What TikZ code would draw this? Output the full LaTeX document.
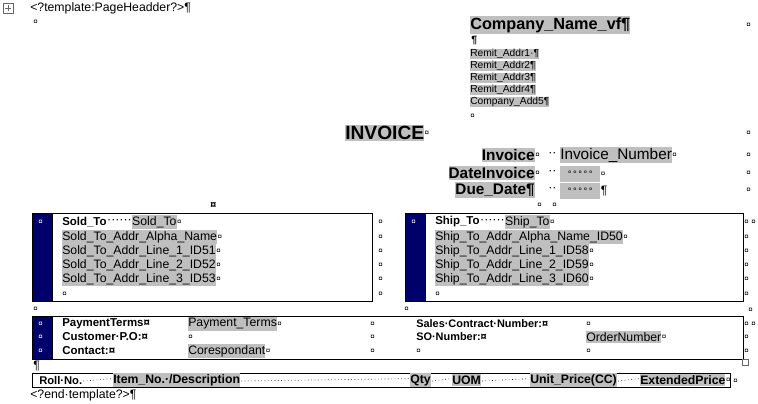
\documentclass[tikz,border=0pt]{standalone}
\usepackage{fontspec}
\setmainfont{Liberation Sans}
\usetikzlibrary{positioning}
\begin{document}
\begin{tikzpicture}[x=0.75pt,y=-0.75pt,
  t/.style={anchor=west,inner sep=0pt,font=\fontsize{9.2}{10}\selectfont},
  ts/.style={anchor=west,inner sep=0pt,font=\fontsize{7.7}{8}\selectfont},
  hl/.style={fill=black!25,inner ysep=1pt},
  b/.style={font=\fontsize{8.6}{10}\selectfont\bfseries},
  bl/.style={font=\fontsize{11.5}{13}\selectfont\bfseries},
  tl/.style={font=\fontsize{11.5}{13}\selectfont},
  mk/.style={anchor=west,inner sep=0pt,font=\fontsize{6}{7}\selectfont},
  navy/.style={fill=black!30!blue!60!black},
  dots/.style={dotted,line width=0.5pt},
  deg/.style={t,hl,font=\fontsize{7}{8}\selectfont,minimum height=12pt,minimum width=30pt,anchor=north west}]
\useasboundingbox (0,0) rectangle (758,404);
% header
\draw[black!60] (3,3) rectangle (13,13);
\draw[black!60] (5,8) -- (11,8) (8,5) -- (8,11);
\node[t] (hdr) at (30,8) {<?template:PageHeadder?>¶};
\node[mk] (m0) at (33,22) {¤};
\node[t,hl,anchor=west,font=\fontsize{12.2}{14}\selectfont\bfseries] (cn) at (470,25) {Company\_Name\_vf¶};
\node[mk] (m1) at (746,25) {¤};
\node[t,font=\fontsize{8}{9}\selectfont\bfseries] (p1) at (471,41) {¶};
\node[ts,hl,inner ysep=0.5pt] (r1) at (470,54) {Remit\_Addr1·¶};
\node[ts,hl,inner ysep=0.5pt] (r2) at (470,66) {Remit\_Addr2¶};
\node[ts,hl,inner ysep=0.5pt] (r3) at (470,78) {Remit\_Addr3¶};
\node[ts,hl,inner ysep=0.5pt] (r4) at (470,90) {Remit\_Addr4¶};
\node[ts,hl,inner ysep=0.5pt] (r5) at (470,102) {Company\_Add5¶};
\node[mk] (r6) at (470,116) {¤};
\node[t,hl,font=\fontsize{14.4}{16}\selectfont\bfseries] (inv) at (345,133) {INVOICE};
\node[mk,right=0pt of inv] (inva) {¤};
\node[mk] (m2) at (746,133) {¤};
\node[t,hl,anchor=east,bl] (il) at (535,155) {Invoice};
\node[mk,right=0pt of il] {¤};
\node[t] (iv0) at (548,155) {··};
\node[t,hl,tl] (iv) at (560,155) {Invoice\_Number};
\node[mk,right=0pt of iv] {¤};
\node[mk] at (746,155) {¤};
\node[t,hl,anchor=east,bl] (dl) at (535,173) {DateInvoice};
\node[mk,right=0pt of dl] {¤};
\node[t] at (548,173) {··};
\node[deg] (dv) at (560,166) {°\,°\,°\,°\,°};
\node[mk,right=0pt of dv] {¤};
\node[mk] at (746,173) {¤};
\node[t,hl,anchor=east,bl] (ddl) at (535,190) {Due\_Date¶};
\node[t] at (548,190) {··};
\node[deg] (ddv) at (560,183) {°\,°\,°\,°\,°};
\node[t,right=0pt of ddv] {¶};
\node[mk] at (746,190) {¤};
\node[mk,font=\fontsize{8}{9}\selectfont\bfseries] at (210,205) {¤};
\node[mk] at (537,205) {¤};
\node[mk] at (552,205) {¤};
% sold to box
\draw[navy] (32,213) rectangle (52,301);
\draw (32,213) rectangle (372,301);
\node[mk,white] at (38,222) {¤};
\node[t,b] (st) at (62,222) {Sold\_To};
\node[t,right=0pt of st] (std) {······};
\node[t,hl,right=0pt of std] (stv) {Sold\_To};
\node[mk,right=0pt of stv] {¤};
\foreach \s/\y in {Sold\_To\_Addr\_Alpha\_Name/237,Sold\_To\_Addr\_Line\_1\_ID51/251,Sold\_To\_Addr\_Line\_2\_ID52/265,Sold\_To\_Addr\_Line\_3\_ID53/279}{
  \node[t,hl] (x) at (62,\y) {\s}; \node[mk,right=0pt of x] {¤};}
\node[mk] at (62,294) {¤};
\foreach \y in {222,237,251,265,279,294} \node[mk] at (378,\y) {¤};
% ship to box
\draw[navy] (405,213) rectangle (425,301);
\draw (405,213) rectangle (743,301);
\node[mk,white] at (411,222) {¤};
\node[t,b] (sh) at (435,222) {Ship\_To};
\node[t,right=0pt of sh] (shd) {······};
\node[t,hl,right=0pt of shd] (shv) {Ship\_To};
\node[mk,right=0pt of shv] {¤};
\foreach \s/\y in {Ship\_To\_Addr\_Alpha\_Name\_ID50/237,Ship\_To\_Addr\_Line\_1\_ID58/251,Ship\_To\_Addr\_Line\_2\_ID59/265,Ship\_To\_Addr\_Line\_3\_ID60/279}{
  \node[t,hl] (x) at (435,\y) {\s}; \node[mk,right=0pt of x] {¤};}
\node[mk] at (435,294) {¤};
\foreach \y in {222,237,251,265,279,294} \node[mk] at (744,\y) {¤};
\node[mk] at (751,222) {¤};
\node[mk] at (33,309) {¤};
\node[mk] at (404,309) {¤};
\node[mk] at (748,310) {¤};
% payment table
\draw[navy] (32,316) rectangle (52,359);
\draw (32,316) rectangle (743,359);
\foreach \y in {324,337,351} {\node[mk,white] at (38,\y) {¤}; \node[mk] at (370,\y) {¤}; \node[mk] at (744,\y) {¤};}
\node[mk] at (751,324) {¤};
\node[t,b] (pt) at (62,324) {PaymentTerms¤};
\node[t,b] (cp) at (62,337) {Customer·P.O:¤};
\node[t,b] (co) at (62,351) {Contact:¤};
\node[t,hl] (ptv) at (188,324) {Payment\_Terms}; \node[mk,right=0pt of ptv] {¤};
\node[mk] at (188,337) {¤};
\node[t,hl] (cov) at (188,351) {Corespondant}; \node[mk,right=0pt of cov] {¤};
\node[t,b,font=\fontsize{8.2}{9}\selectfont\bfseries] (sc) at (416,324) {Sales·Contract·Number:¤};
\node[t,b,font=\fontsize{8.2}{9}\selectfont\bfseries] (so) at (416,337) {SO·Number:¤};
\node[mk] at (416,351) {¤};
\node[mk] at (586,324) {¤};
\node[t,hl] (on) at (586,337) {OrderNumber}; \node[mk,right=0pt of on] {¤};
\node[mk] at (586,351) {¤};
\node[t] at (33,366) {¶};
\draw[black!60] (742,359) rectangle (748,365);
% line items
\draw (32,373) rectangle (730,387);
\tikzset{li/.style={t,font=\fontsize{9.2}{10}\selectfont\bfseries}}
\node[li,font=\fontsize{8.4}{10}\selectfont\bfseries] (rn) at (39,380) {Roll·No.};
\node[li,hl] (it) at (113,380) {Item\_No.·/Description};
\node[li,hl] (qt) at (410,380) {Qty};
\node[li,hl] (uo) at (452,380) {UOM};
\node[li,hl] (up) at (530,380) {Unit\_Price(CC)};
\node[li,hl] (ep) at (640,380) {ExtendedPrice};
\node[mk,right=0pt of ep] {¤};
\node[mk] at (733,381) {¤};
\draw[dots] (rn.east) ++(1,1) -- ([xshift=-1pt,yshift=1pt]it.west);
\draw[dots] (it.east) ++(1,1) -- ([xshift=-1pt,yshift=1pt]qt.west);
\draw[dots] (qt.east) ++(1,1) -- ([xshift=-1pt,yshift=1pt]uo.west);
\draw[dots] (uo.east) ++(1,1) -- ([xshift=-1pt,yshift=1pt]up.west);
\draw[dots] (up.east) ++(1,1) -- ([xshift=-1pt,yshift=1pt]ep.west);
\node[t] (end) at (30,395) {<?end·template?>¶};
\end{tikzpicture}
\end{document}
